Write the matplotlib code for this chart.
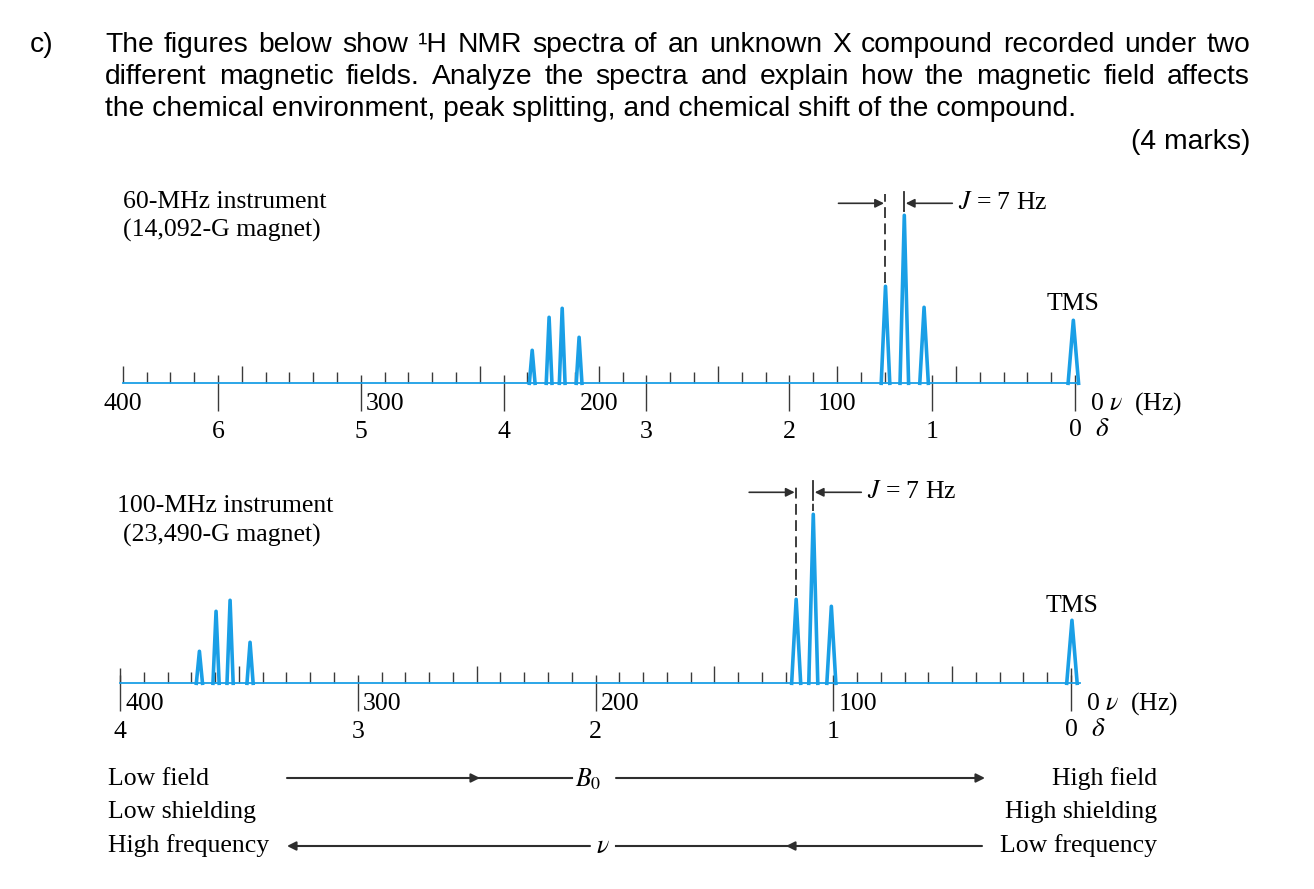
import matplotlib
matplotlib.use('Agg')
import matplotlib.pyplot as plt

W, H = 1314, 889
plt.rcParams['font.family'] = ['Liberation Serif', 'DejaVu Serif']
plt.rcParams['mathtext.fontset'] = 'stix'

# ---------------- data ----------------
part_label = "c)"
question_lines = [
    "The figures below show \u00b9H NMR spectra of an unknown X compound recorded under two",
    "different magnetic fields. Analyze the spectra and explain how the magnetic field affects",
    "the chemical environment, peak splitting, and chemical shift of the compound.",
]
marks_text = "(4 marks)"

label_60 = ["60-MHz instrument", "(14,092-G magnet)"]
label_100 = ["100-MHz instrument", "(23,490-G magnet)"]

mhz_60 = 60
hz_labels_60 = [400, 300, 200, 100]
delta_labels_60 = [6, 5, 4, 3, 2, 1]
mhz_100 = 100
hz_labels_100 = [400, 300, 200, 100]
delta_labels_100 = [4, 3, 2, 1]

quartet_60_hz = [228.0, 220.9, 215.4, 208.3]
quartet_60_h = [33, 66, 75, 46]
triplet_60_hz = [79.6, 71.7, 63.4]
triplet_60_h = [97, 168, 76]
tms_60_hz = [0.7]
tms_60_h = [63]

quartet_100_hz = [366.6, 359.6, 353.7, 345.3]
quartet_100_h = [32, 72, 83, 41]
triplet_100_hz = [115.6, 108.4, 100.8]
triplet_100_h = [84, 169, 77]
tms_100_hz = [-0.4]
tms_100_h = [63]

field_left = ["Low field", "Low shielding", "High frequency"]
field_right = ["High field", "High shielding", "Low frequency"]

# ---------------- style ----------------
BLUE = '#1a9fe6'
TICK = '#3a3a3a'
ARROW = '#2e2e2e'
SERIF_FS = 18.5
SANS = ['Liberation Sans', 'DejaVu Sans']

fig = plt.figure(figsize=(W / 100, H / 100), dpi=100)
ov = fig.add_axes([0, 0, 1, 1], zorder=0)
ov.set_xlim(0, W)
ov.set_ylim(H, 0)
ov.axis('off')
renderer = fig.canvas.get_renderer()

# ---------------- question text ----------------
probe = ov.text(0, 0, question_lines[2], fontsize=19, family=SANS)
w3 = probe.get_window_extent(renderer).width
probe.remove()
QFS = 19 * (1078 - 105) / w3


def justify(line, x0, x1, y):
    words = line.split(' ')
    arts = [ov.text(0, y, wd, fontsize=QFS, family=SANS, va='baseline', color='black')
            for wd in words]
    widths = [a.get_window_extent(renderer).width for a in arts]
    gap = (x1 - x0 - sum(widths)) / (len(words) - 1)
    x = x0
    for a, wd in zip(arts, widths):
        a.set_x(x)
        x += wd + gap


ov.text(30, 51.5, part_label, fontsize=QFS, family=SANS, va='baseline')
justify(question_lines[0], 105, 1250, 51.5)
justify(question_lines[1], 105, 1250, 83.5)
ov.text(105, 115.5, question_lines[2], fontsize=QFS, family=SANS, va='baseline')
ov.text(1250, 149, marks_text, fontsize=QFS, family=SANS, va='baseline', ha='right')

# ---------------- spectrum axes ----------------

def spec_axes(x400, x0, y_top, y_bot, y_base):
    ax = fig.add_axes([x400 / W, 1 - y_bot / H, (x0 - x400) / W, (y_bot - y_top) / H], zorder=1)
    ax.set_xlim(400, 0)
    ax.set_ylim(-(y_bot - y_base), y_base - y_top)
    ax.axis('off')
    return ax, (x0 - x400) / 400.0


def draw_peaks(ax, centers, heights, halfw):
    for c, h in zip(centers, heights):
        ax.plot([c + halfw, c, c - halfw], [0, h, 0], color=BLUE, lw=2.6,
                solid_joinstyle='round', clip_on=False, zorder=3)


def draw_scale(ax, k, mhz, hz_labels, delta_labels, end_hz, end_tall):
    delta_hz = [d * mhz for d in delta_labels] + [0]
    ax.plot([400, end_hz], [0, 0], color=BLUE, lw=1.3, clip_on=False, zorder=2)
    minor = [v for v in range(10, 401, 10) if v not in delta_hz]
    small = [v for v in minor if v % 50]
    tall = [v for v in minor if v % 50 == 0]
    ax.vlines(small, 0, 11, color=TICK, lw=1.0, clip_on=False, zorder=1)
    ax.vlines(tall, 0, 17, color=TICK, lw=1.0, clip_on=False, zorder=1)
    ax.vlines(delta_hz, -28, 8, color=TICK, lw=1.0, clip_on=False, zorder=1)
    if end_tall:
        ax.vlines([v for v in delta_hz if v in (0, 400)], 0, 15, color=TICK, lw=1.0,
                  clip_on=False, zorder=1)
    for v in hz_labels:
        if v in delta_hz:
            ax.text(v - 5 / k, -26.7, str(v), ha='left', va='baseline',
                    fontsize=SERIF_FS, clip_on=False)
        else:
            ax.text(v, -26.7, str(v), ha='center', va='baseline',
                    fontsize=SERIF_FS, clip_on=False)
    for d in delta_labels:
        ax.text(d * mhz, -54.7, str(d), ha='center', va='baseline',
                fontsize=SERIF_FS, clip_on=False)
    ax.text(-15 / k, -26.7, r'0 $\nu$  (Hz)', ha='left', va='baseline',
            fontsize=SERIF_FS, clip_on=False)
    ax.text(0, -53, '0', ha='center', va='baseline', fontsize=SERIF_FS, clip_on=False)
    ax.text(-20 / k, -53, r'$\delta$', ha='left', va='baseline',
            fontsize=SERIF_FS + 1, clip_on=False)


def arrow(ax, tail, tip, lw=1.2):
    ax.annotate('', xy=tip, xytext=tail, annotation_clip=False,
                arrowprops=dict(arrowstyle='-|>', lw=lw, color=ARROW,
                                mutation_scale=13, shrinkA=0, shrinkB=0))


def j_marker(ax, k, x_a, h_a, x_b, h_b, y_arrow, y_top, bar_len):
    ax.plot([x_a, x_a], [h_a + 3, y_top], color=ARROW, lw=1.3, ls=(0, (6, 3)),
            clip_on=False)
    ax.plot([x_b, x_b], [y_top - bar_len, y_top + 2], color=ARROW, lw=1.3, clip_on=False)
    if y_top - bar_len > h_b + 4:
        ax.plot([x_b, x_b], [h_b + 3, y_top - bar_len], color=ARROW, lw=1.3,
                ls=(0, (4, 3)), clip_on=False)
    arrow(ax, (x_a + 47 / k, y_arrow), (x_a + 1.5 / k, y_arrow))
    arrow(ax, (x_b - 48 / k, y_arrow), (x_b - 1.5 / k, y_arrow))
    ax.text(x_b - 54 / k, y_arrow, r'$J$ = 7 Hz', ha='left', va='center',
            fontsize=SERIF_FS, clip_on=False)


# ---- 60 MHz ----
ax1, k1 = spec_axes(122.7, 1075, 170, 445, 383.3)
draw_scale(ax1, k1, mhz_60, hz_labels_60, delta_labels_60, -1.8, False)
draw_peaks(ax1, quartet_60_hz, quartet_60_h, 1.2)
draw_peaks(ax1, triplet_60_hz, triplet_60_h, 1.8)
draw_peaks(ax1, tms_60_hz, tms_60_h, 2.2)
ax1.text(tms_60_hz[0], 73.3, 'TMS', ha='center', va='baseline', fontsize=SERIF_FS,
         clip_on=False)
j_marker(ax1, k1, triplet_60_hz[0], triplet_60_h[0], triplet_60_hz[1], triplet_60_h[1],
         180, 189, 16)
ov.text(123, 208, label_60[0], fontsize=SERIF_FS, va='baseline')
ov.text(123, 237, label_60[1], fontsize=SERIF_FS, va='baseline')

# ---- 100 MHz ----
ax2, k2 = spec_axes(120, 1071, 470, 745, 683.3)
draw_scale(ax2, k2, mhz_100, hz_labels_100, delta_labels_100, -3.8, True)
draw_peaks(ax2, quartet_100_hz, quartet_100_h, 1.3)
draw_peaks(ax2, triplet_100_hz, triplet_100_h, 1.9)
draw_peaks(ax2, tms_100_hz, tms_100_h, 2.2)
ax2.text(tms_100_hz[0], 71.3, 'TMS', ha='center', va='baseline', fontsize=SERIF_FS,
         clip_on=False)
j_marker(ax2, k2, triplet_100_hz[0], triplet_100_h[0], triplet_100_hz[1], triplet_100_h[1],
         191, 200, 17)
ov.text(117, 512.5, label_100[0], fontsize=SERIF_FS, va='baseline')
ov.text(123, 542, label_100[1], fontsize=SERIF_FS, va='baseline')

# ---------------- field / frequency legend ----------------
for i, (lt, rt) in enumerate(zip(field_left, field_right)):
    yb = [785, 818, 852][i]
    ov.text(108, yb, lt, fontsize=SERIF_FS, va='baseline')
    ov.text(1157, yb, rt, fontsize=SERIF_FS, va='baseline', ha='right')

yB = 778
arrow(ov, (287, yB), (480, yB), 1.5)
ov.plot([478, 572], [yB, yB], color=ARROW, lw=1.5)
ov.text(588, yB + 1, r'$B_0$', fontsize=SERIF_FS, ha='center', va='center')
arrow(ov, (616, yB), (985, yB), 1.5)

yN = 846
arrow(ov, (590, yN), (287, yN), 1.5)
ov.text(603, yN + 1, r'$\nu$', fontsize=SERIF_FS, ha='center', va='center')
arrow(ov, (982, yN), (786, yN), 1.5)
ov.plot([788, 616], [yN, yN], color=ARROW, lw=1.5)

fig.savefig('out.png', dpi=100)
